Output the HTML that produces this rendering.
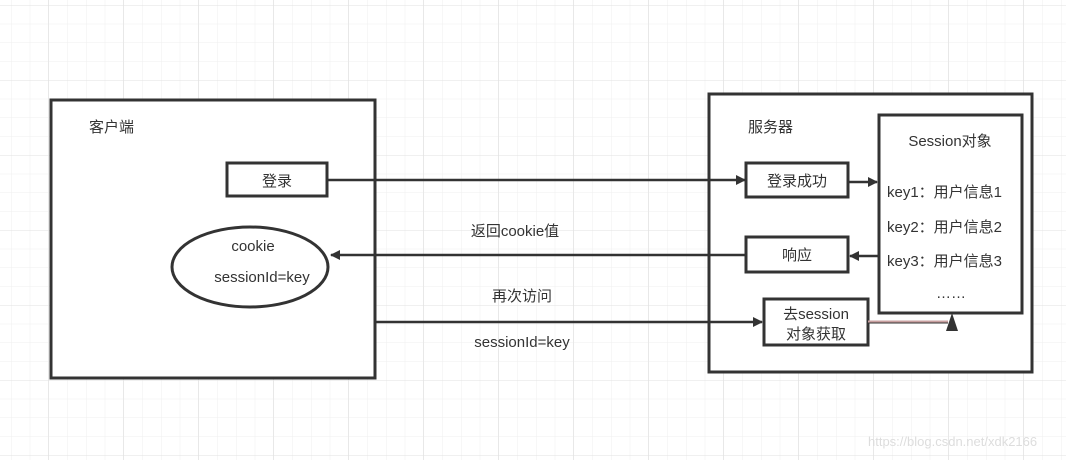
<!DOCTYPE html>
<html><head><meta charset="utf-8"><style>
html,body{margin:0;padding:0;background:#fff}
svg{display:block}
text{font-family:"Liberation Sans","Noto Sans CJK SC",sans-serif;font-size:15px;fill:#333}
</style></head><body>
<svg width="1066" height="460" viewBox="0 0 1066 460" xmlns="http://www.w3.org/2000/svg">
<defs>
<pattern id="g" x="11" y="5" width="18.75" height="18.75" patternUnits="userSpaceOnUse">
<path d="M0 0H18.75M0 0V18.75" stroke="#efefef" stroke-width="1" fill="none"/>
</pattern>
<pattern id="G" x="48" y="5" width="75" height="75" patternUnits="userSpaceOnUse">
<path d="M0 0H75M0 0V75" stroke="#e2e2e2" stroke-width="1" fill="none"/>
</pattern>
<marker id="a" markerWidth="10" markerHeight="10" refX="9" refY="5" orient="auto" markerUnits="userSpaceOnUse">
<path d="M0 0L10 5L0 10Z" fill="#333"/>
</marker>
</defs>
<rect width="1066" height="460" fill="url(#g)"/>
<rect width="1066" height="460" fill="url(#G)"/>
<g stroke="#333" stroke-width="3" fill="#fff">
<rect x="51" y="100" width="324" height="278"/>
<rect x="709" y="94" width="323" height="278"/>
<rect x="879" y="115" width="143" height="198"/>
<rect x="227" y="163" width="100" height="33"/>
<rect x="746" y="163" width="102" height="34"/>
<rect x="746" y="237" width="102" height="35"/>
<rect x="764" y="299" width="104" height="46"/>
<ellipse cx="250" cy="267" rx="78" ry="40"/>
</g>
<g stroke="#333" stroke-width="2.5" fill="none">
<line x1="327" y1="180" x2="745" y2="180" marker-end="url(#a)"/>
<line x1="848" y1="182" x2="877" y2="182" marker-end="url(#a)"/>
<line x1="746" y1="255" x2="331" y2="255" marker-end="url(#a)"/>
<line x1="879" y1="256" x2="850" y2="256" marker-end="url(#a)"/>
<line x1="376" y1="322" x2="762" y2="322" marker-end="url(#a)"/>
</g>
<line x1="868" y1="322" x2="948" y2="322" stroke="#c9a0a0" stroke-width="3"/>
<line x1="868" y1="323" x2="948" y2="323" stroke="#333" stroke-width="1"/>
<path d="M946 331L952 313L958 331Z" fill="#333"/>
<text x="89" y="132">客户端</text>
<text x="277" y="186" text-anchor="middle">登录</text>
<text x="253" y="251" text-anchor="middle">cookie</text>
<text x="262" y="282" text-anchor="middle">sessionId=key</text>
<text x="515" y="236" text-anchor="middle">返回cookie值</text>
<text x="522" y="301" text-anchor="middle">再次访问</text>
<text x="522" y="347" text-anchor="middle">sessionId=key</text>
<text x="748" y="132">服务器</text>
<text x="797" y="186" text-anchor="middle">登录成功</text>
<text x="797" y="260" text-anchor="middle">响应</text>
<text x="816" y="319" text-anchor="middle">去session</text>
<text x="816" y="339" text-anchor="middle">对象获取</text>
<text x="950" y="146" text-anchor="middle">Session对象</text>
<text x="887" y="197">key1：用户信息1</text>
<text x="887" y="232">key2：用户信息2</text>
<text x="887" y="266">key3：用户信息3</text>
<text x="951" y="298" text-anchor="middle">……</text>
<text x="868" y="446" style="font-size:13px;fill:#ddd">https://blog.csdn.net/xdk2166</text>
</svg>
</body></html>
